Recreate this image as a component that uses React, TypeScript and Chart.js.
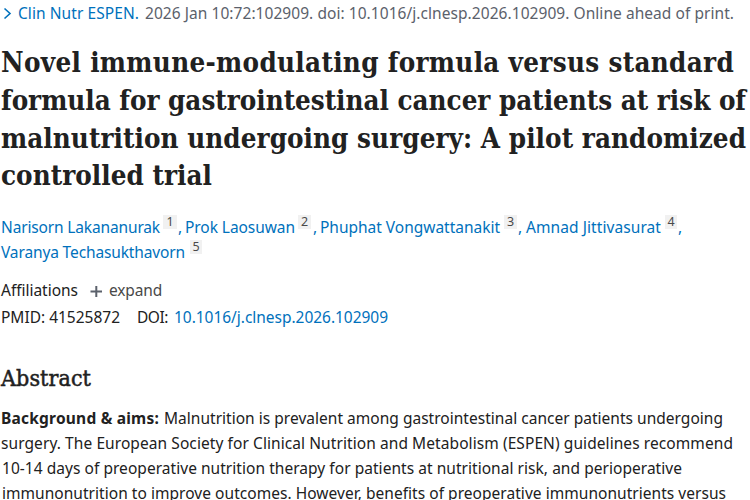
import * as React from 'react';
import { Chart, registerables } from 'chart.js';

Chart.register(...registerables);

// The reference has no plotted series: everything in it is page text.
const journalName = 'Clin Nutr ESPEN.';
const citation = '2026 Jan 10:72:102909. doi: 10.1016/j.clnesp.2026.102909. Online ahead of print.';
const titleLines = [
  'Novel immune-modulating formula versus standard',
  'formula for gastrointestinal cancer patients at risk of',
  'malnutrition undergoing surgery: A pilot randomized',
  'controlled trial',
];
const authors = [
  'Narisorn Lakananurak',
  'Prok Laosuwan',
  'Phuphat Vongwattanakit',
  'Amnad Jittivasurat',
  'Varanya Techasukthavorn',
];
const authorMarks = ['1', '2', '3', '4', '5'];
const affiliationLabels = ['Affiliations', 'expand'];
const idLabels = ['PMID: 41525872', 'DOI:', '10.1016/j.clnesp.2026.102909'];
const abstractHeading = 'Abstract';
const abstractLead = 'Background & aims:';
const abstractLines = [
  'Malnutrition is prevalent among gastrointestinal cancer patients undergoing',
  'surgery. The European Society for Clinical Nutrition and Metabolism (ESPEN) guidelines recommend',
  '10-14 days of preoperative nutrition therapy for patients at nutritional risk, and perioperative',
  'immunonutrition to improve outcomes. However, benefits of preoperative immunonutrients versus',
];

const LINK = '#0071bc';
const MUTED = '#5b616b';
const INK = '#212121';
const SANS = '"Noto Sans", sans-serif';
const SERIF = '"DejaVu Serif Condensed", "DejaVu Serif", serif';

// draws text so it runs from x to endX, which is how the lines line up with the reference
const fit = (
  ctx: CanvasRenderingContext2D,
  text: string,
  x: number,
  endX: number,
  y: number,
  font: string,
  color: string,
  weight = 0,
) => {
  ctx.font = font;
  ctx.fillStyle = color;
  (ctx as any).letterSpacing = '0px';
  const gap = (endX - x - ctx.measureText(text).width) / text.length;
  (ctx as any).letterSpacing = gap + 'px';
  ctx.fillText(text, x, y);
  if (weight > 0) {
    ctx.strokeStyle = color;
    ctx.lineWidth = weight;
    ctx.strokeText(text, x, y);
  }
  (ctx as any).letterSpacing = '0px';
};

const mark = (ctx: CanvasRenderingContext2D, text: string, left: number, right: number, y: number) => {
  ctx.fillStyle = '#f1f1f1';
  ctx.fillRect(left, y - 14, right - left, 14);
  ctx.font = `12.5px ${SANS}`;
  ctx.fillStyle = '#494949';
  ctx.textAlign = 'center';
  ctx.fillText(text, (left + right) / 2, y - 3);
  ctx.textAlign = 'left';
};

const pagePlugin = {
  id: 'articlePage',
  beforeDraw(chart: Chart) {
    const ctx = chart.ctx;
    const body = `15.5px ${SANS}`;
    ctx.save();
    ctx.fillStyle = '#ffffff';
    ctx.fillRect(0, 0, chart.width, chart.height);
    ctx.textBaseline = 'alphabetic';

    // journal line
    ctx.strokeStyle = LINK;
    ctx.lineWidth = 1.6;
    ctx.beginPath();
    ctx.moveTo(4.5, 8.5);
    ctx.lineTo(10, 13.5);
    ctx.lineTo(4.5, 18.5);
    ctx.stroke();
    fit(ctx, journalName, 18, 139, 19, body, LINK);
    fit(ctx, citation, 145, 734, 19, body, MUTED);

    // title
    const titleFont = `bold 27.5px ${SERIF}`;
    fit(ctx, titleLines[0], 1, 734, 72, titleFont, INK);
    fit(ctx, titleLines[1], 1, 746, 110, titleFont, INK);
    fit(ctx, titleLines[2], 1, 746, 148, titleFont, INK);
    fit(ctx, titleLines[3], 1, 212, 185, titleFont, INK);

    // authors
    fit(ctx, authors[0], 1, 160, 233, body, LINK);
    mark(ctx, authorMarks[0], 163, 177, 229);
    fit(ctx, ',', 178, 181, 233, body, LINK);
    fit(ctx, authors[1], 185, 295, 233, body, LINK);
    mark(ctx, authorMarks[1], 298, 311, 229);
    fit(ctx, ',', 313, 316, 233, body, LINK);
    fit(ctx, authors[2], 320, 500, 233, body, LINK);
    mark(ctx, authorMarks[2], 504, 517, 229);
    fit(ctx, ',', 518, 521, 233, body, LINK);
    fit(ctx, authors[3], 526, 661, 233, body, LINK);
    mark(ctx, authorMarks[3], 665, 677, 229);
    fit(ctx, ',', 678, 681, 233, body, LINK);
    fit(ctx, authors[4], 1, 185, 258, body, LINK);
    mark(ctx, authorMarks[4], 190, 202, 254);

    // affiliations and ids
    fit(ctx, affiliationLabels[0], 1, 78, 296, body, INK);
    ctx.strokeStyle = MUTED;
    ctx.lineWidth = 2;
    ctx.beginPath();
    ctx.moveTo(90.5, 291.5);
    ctx.lineTo(102, 291.5);
    ctx.moveTo(96.3, 286);
    ctx.lineTo(96.3, 297);
    ctx.stroke();
    fit(ctx, affiliationLabels[1], 109, 162, 296, body, '#494949');
    fit(ctx, idLabels[0], 1, 120, 323, body, INK);
    fit(ctx, idLabels[1], 137, 168, 323, body, INK);
    fit(ctx, idLabels[2], 174, 388, 323, body, LINK);

    // abstract
    fit(ctx, abstractHeading, 1, 91, 386, `23px ${SERIF}`, INK, 0.5);
    fit(ctx, abstractLead, 1, 159, 424, `bold 15.5px ${SANS}`, INK);
    fit(ctx, abstractLines[0], 164, 723, 424, body, INK);
    fit(ctx, abstractLines[1], 1, 733, 449, body, INK);
    fit(ctx, abstractLines[2], 2, 682, 474, body, INK);
    fit(ctx, abstractLines[3], 2, 726, 499, body, INK);
    ctx.restore();
  },
};

export default function App() {
  const ref = React.useRef<HTMLCanvasElement>(null);

  React.useEffect(() => {
    document.body.style.margin = '0';
    if (!ref.current) return;
    const ctx = ref.current.getContext('2d', { alpha: false });
    if (!ctx) return;
    const chart = new Chart(ctx, {
      type: 'bar',
      data: { labels: [], datasets: [] },
      options: {
        animation: false,
        responsive: false,
        devicePixelRatio: 1,
        layout: { padding: 0 },
        plugins: { legend: { display: false }, tooltip: { enabled: false } },
        scales: { x: { display: false }, y: { display: false } },
      },
      plugins: [pagePlugin],
    });
    return () => chart.destroy();
  }, []);

  return <canvas ref={ref} width={750} height={500} style={{ display: 'block' }} />;
}
